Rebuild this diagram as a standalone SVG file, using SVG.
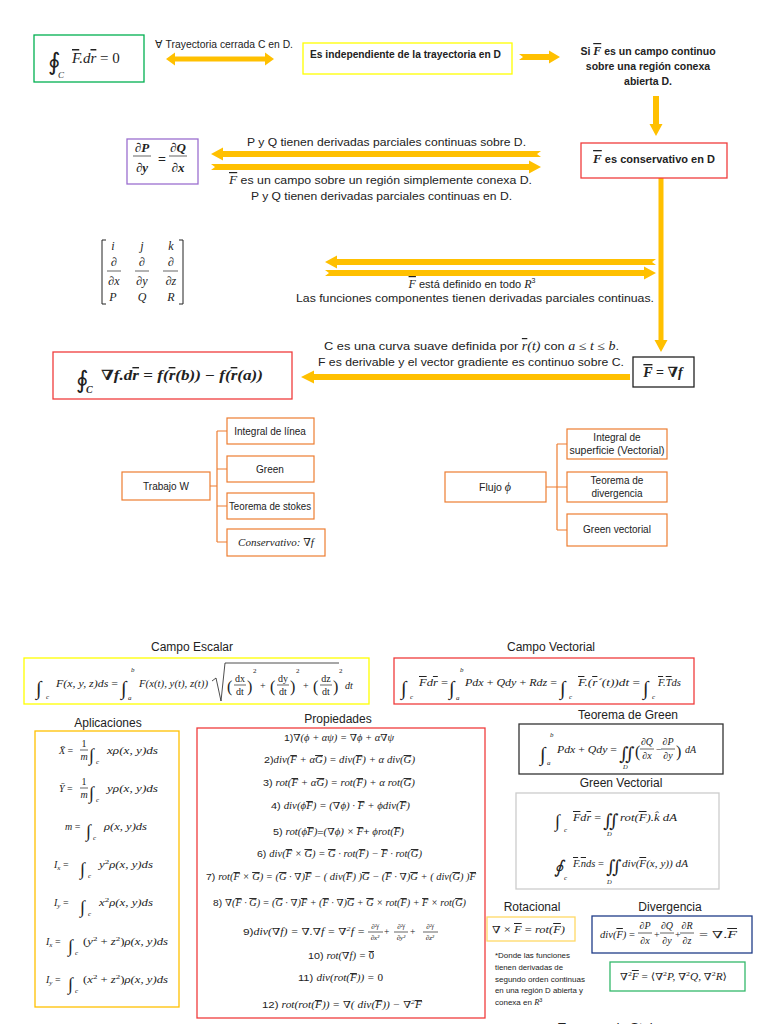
<svg xmlns="http://www.w3.org/2000/svg" width="768" height="1024" viewBox="0 0 768 1024">
<style>
.t{font-family:"Liberation Sans",Arial,sans-serif;fill:#222}
.b{font-weight:bold}
.m{font-family:"Liberation Serif","DejaVu Serif",serif;font-style:italic;fill:#222}
.s{font-family:"Liberation Sans",Arial,sans-serif;font-style:normal}
.u{font-style:normal}
.v{text-decoration:overline}
.c{text-anchor:middle}
.box{fill:#fff;stroke-width:1.3}
.tb{fill:#fff;stroke:#ED7D31;stroke-width:1.2}
.arr{fill:#FFC000}
.tl{stroke:#ED7D31;stroke-width:1.2;fill:none}
.title{font-family:"Liberation Sans",Arial,sans-serif;fill:#222;text-anchor:middle}
.ig{font-family:"Liberation Serif","DejaVu Serif",serif;fill:#222}
.fb{stroke:#222;stroke-width:0.7}
</style>
<rect width="768" height="1024" fill="#fff"/>

<g id="connectors">
<polygon class="arr" points="166,59 175,52.5 175,56.5 265,56.5 265,52.5 274,59 265,65.5 265,61.5 175,61.5 175,65.5"/>
<polygon class="arr" points="519,54 549,54 549,50.5 560,57 549,63.5 549,60 519,60 523,57"/>
<polygon class="arr" points="653,96 659,96 659,124 662.5,124 656,136 649.5,124 653,124"/>
<polygon class="arr" points="658.5,178 663.5,178 663.5,340 667.5,340 661,352 654.5,340 658.5,340"/>
<polygon class="arr" points="211,154 223,147.5 223,151 541,151 537,154 541,157 223,157 223,160.5"/>
<polygon class="arr" points="211,164 529,164 529,160.5 541,167 529,173.5 529,170 211,170 215,167"/>
<polygon class="arr" points="325,262 337,255.5 337,259 656,259 652,262 656,265 337,265 337,268.5"/>
<polygon class="arr" points="325,270 644,270 644,266.5 656,273 644,279.5 644,276 325,276 329,273"/>
<polygon class="arr" points="301,377 314,370.5 314,374 630,374 630,380 314,380 314,383.5"/>
<path class="tl" d="M210,486 H217 M217,431 V542 M217,431 H227 M217,469 H227 M217,506 H227 M217,542 H227"/>
<path class="tl" d="M546,487 H557 M557,444 V530 M557,444 H567 M557,487 H567 M557,530 H567"/>
</g>

<g id="labels">
<text class="t" x="155" y="48" font-size="10.5" textLength="138" lengthAdjust="spacingAndGlyphs">∀ Trayectoria cerrada C en D.</text>
<text class="t b c" x="648" y="55" font-size="10.5">Si <tspan class="m v" font-size="12">F</tspan> es un campo continuo<tspan x="648" y="70">sobre una región conexa</tspan><tspan x="648" y="85">abierta D.</tspan></text>
<text class="t" x="247" y="146" font-size="11" textLength="279" lengthAdjust="spacingAndGlyphs">P y Q tienen derivadas parciales continuas sobre D.</text>
<text class="t" x="229" y="184" font-size="11" textLength="303" lengthAdjust="spacingAndGlyphs"><tspan class="m v" font-size="12">F</tspan> es un campo sobre un región simplemente conexa D.</text>
<text class="t" x="251" y="200" font-size="11" textLength="261" lengthAdjust="spacingAndGlyphs">P y Q tienen derivadas parciales continuas en D.</text>
<text class="t c" x="472" y="288" font-size="11"><tspan class="m v" font-size="12">F</tspan> está definido en todo <tspan class="m" font-size="12">R</tspan><tspan font-size="7" dy="-5">3</tspan></text>
<text class="t" x="296" y="302" font-size="11" textLength="358" lengthAdjust="spacingAndGlyphs">Las funciones componentes tienen derivadas parciales continuas.</text>
<text class="t" x="324" y="350" font-size="11" textLength="295" lengthAdjust="spacingAndGlyphs">C es una curva suave definida por <tspan class="m" font-size="12"><tspan class="v">r</tspan>(t)</tspan> con <tspan class="m" font-size="12">a ≤ t ≤ b</tspan>.</text>
<text class="t" x="318" y="366" font-size="11" textLength="306" lengthAdjust="spacingAndGlyphs">F es derivable y el vector gradiente es continuo sobre C.</text>
</g>

<g id="n-closed">
<rect class="box" x="34" y="35" width="110" height="47" stroke="#00B050"/>
<text class="ig" x="48" y="70" font-size="24">∮</text>
<text class="m" x="58" y="78" font-size="9">C</text>
<text class="m" x="72" y="63" font-size="15"><tspan class="v">F</tspan>.d<tspan class="v">r</tspan><tspan class="u"> = 0</tspan></text>
</g>

<g id="n-indep">
<rect class="box" x="303" y="43" width="209" height="31" stroke="#FFFF00" stroke-width="1.6"/>
<text class="t b" x="310" y="58" font-size="10" textLength="191" lengthAdjust="spacingAndGlyphs">Es independiente de la trayectoria en D</text>
</g>

<g id="n-conserv">
<rect class="box" x="581" y="143" width="146" height="35" stroke="#F03C3C"/>
<text class="t b c" x="654" y="163" font-size="11"><tspan class="m v" font-size="13">F</tspan> es conservativo en D</text>
</g>

<g id="n-partial">
<rect class="box" x="127" y="139" width="71" height="45" stroke="#9B6FCF" stroke-width="1.5"/>
<text class="m b c" x="142" y="152" font-size="13">∂P</text>
<line class="fb" x1="133" y1="156" x2="151" y2="156" stroke-width="1"/>
<text class="m b c" x="142" y="172" font-size="13">∂y</text>
<text class="ig b c" x="162" y="164" font-size="14">=</text>
<text class="m b c" x="178" y="152" font-size="13">∂Q</text>
<line class="fb" x1="169" y1="156" x2="187" y2="156" stroke-width="1"/>
<text class="m b c" x="178" y="172" font-size="13">∂x</text>
</g>

<g id="n-matrix">
<path d="M106,240 H102 V304 H106 M179,240 H183 V304 H179" fill="none" stroke="#222" stroke-width="1"/>
<g class="m c" font-size="12">
<text x="113" y="250">i</text><text x="142" y="250">j</text><text x="171" y="250">k</text>
<text x="114" y="266">∂</text><text x="142" y="266">∂</text><text x="171" y="266">∂</text>
<text x="114" y="285">∂x</text><text x="142" y="285">∂y</text><text x="171" y="285">∂z</text>
<text x="113" y="301">P</text><text x="142" y="301">Q</text><text x="171" y="301">R</text>
</g>
<path class="fb" d="M107,271 H121 M135,271 H149 M163,271 H178"/>
</g>

<g id="n-fundamental">
<rect class="box" x="53" y="352" width="239" height="47" stroke="#F03C3C"/>
<text class="ig" x="76" y="388" font-size="24">∮</text>
<text class="m b" x="86" y="393" font-size="10">C</text>
<text class="m b" x="101" y="380" font-size="14" textLength="162" lengthAdjust="spacingAndGlyphs">∇f.d<tspan class="v">r</tspan> <tspan class="u">=</tspan> f(<tspan class="v">r</tspan>(b)) <tspan class="u">−</tspan> f(<tspan class="v">r</tspan>(a))</text>
</g>

<g id="n-grad">
<rect class="box" x="633" y="357" width="61" height="30" stroke="#222" stroke-width="1.5"/>
<text class="m b c" x="663" y="377" font-size="14"><tspan class="v">F</tspan> <tspan class="u">=</tspan> ∇f</text>
</g>

<g id="n-trabajo">
<rect class="tb" x="122" y="472" width="88" height="28"/>
<text class="t c" x="166" y="490" font-size="10">Trabajo W</text>
</g>
<g id="n-integral-linea">
<rect class="tb" x="227" y="418" width="87" height="26"/>
<text class="t c" x="270" y="435" font-size="10">Integral de línea</text>
</g>
<g id="n-green">
<rect class="tb" x="227" y="456" width="87" height="26"/>
<text class="t c" x="270" y="473" font-size="10">Green</text>
</g>
<g id="n-stokes">
<rect class="tb" x="227" y="493" width="87" height="26"/>
<text class="t c" x="270" y="510" font-size="10" textLength="82" lengthAdjust="spacingAndGlyphs">Teorema de stokes</text>
</g>
<g id="n-conservativo">
<rect class="tb" x="227" y="529" width="98" height="27"/>
<text class="m c" x="276" y="546" font-size="11">Conservativo: ∇f</text>
</g>

<g id="n-flujo">
<rect class="tb" x="445" y="472" width="101" height="30"/>
<text class="t c" x="495" y="491" font-size="10.5">Flujo <tspan class="m" font-size="12">ϕ</tspan></text>
</g>
<g id="n-superficie">
<rect class="tb" x="567" y="429" width="100" height="30"/>
<text class="t c" x="617" y="441" font-size="10">Integral de</text>
<text class="t c" x="617" y="454" font-size="10" textLength="95" lengthAdjust="spacingAndGlyphs">superficie (Vectorial)</text>
</g>
<g id="n-divergencia-t">
<rect class="tb" x="567" y="472" width="100" height="30"/>
<text class="t c" x="617" y="484" font-size="10">Teorema de</text>
<text class="t c" x="617" y="497" font-size="10">divergencia</text>
</g>
<g id="n-green-vec">
<rect class="tb" x="567" y="514" width="100" height="32"/>
<text class="t c" x="617" y="533" font-size="10">Green vectorial</text>
</g>

<g id="n-campo-escalar">
<text class="title" x="192" y="651" font-size="12">Campo Escalar</text>
<rect class="box" x="24" y="658" width="345" height="46" stroke="#FFFF00" stroke-width="1.6"/>
<g class="m" font-size="10">
<text class="ig" x="36" y="695" font-size="20">∫</text>
<text x="46" y="699" font-size="7">c</text>
<text x="56" y="687" textLength="62" lengthAdjust="spacingAndGlyphs">F(x, y, z)ds <tspan class="u">=</tspan></text>
<text class="ig" x="121" y="695" font-size="20">∫</text>
<text x="131" y="672" font-size="7">b</text>
<text x="128" y="700" font-size="7">a</text>
<text x="139" y="687" textLength="69" lengthAdjust="spacingAndGlyphs">F(x(t), y(t), z(t))</text>
<text class="u" x="227" y="692" font-size="16">(</text>
<text class="u c" x="240" y="682">dx</text><text class="u c" x="240" y="695">dt</text>
<text class="u" x="247" y="692" font-size="16">)</text>
<text class="u" x="253" y="673" font-size="7">2</text>
<text class="u" x="260" y="689">+</text>
<text class="u" x="270" y="692" font-size="16">(</text>
<text class="u c" x="283" y="682">dy</text><text class="u c" x="283" y="695">dt</text>
<text class="u" x="290" y="692" font-size="16">)</text>
<text class="u" x="296" y="673" font-size="7">2</text>
<text class="u" x="303" y="689">+</text>
<text class="u" x="313" y="692" font-size="16">(</text>
<text class="u c" x="326" y="682">dz</text><text class="u c" x="326" y="695">dt</text>
<text class="u" x="333" y="692" font-size="16">)</text>
<text class="u" x="339" y="673" font-size="7">2</text>
<text x="345" y="689">dt</text>
</g>
<path d="M212,681 L216,678 L221,701 L225,663 H339" fill="none" stroke="#222" stroke-width="0.8"/>
<path class="fb" d="M234,685 H246 M277,685 H289 M320,685 H332"/>
</g>

<g id="n-campo-vectorial">
<text class="title" x="551" y="651" font-size="12">Campo Vectorial</text>
<rect class="box" x="394" y="658" width="300" height="46" stroke="#F03C3C"/>
<g class="m" font-size="10">
<text class="ig" x="401" y="695" font-size="20">∫</text>
<text x="410" y="699" font-size="7">c</text>
<text x="419" y="686" textLength="29" lengthAdjust="spacingAndGlyphs"><tspan class="v">F</tspan>d<tspan class="v">r</tspan> <tspan class="u">=</tspan></text>
<text class="ig" x="449" y="695" font-size="20">∫</text>
<text x="460" y="672" font-size="7">b</text>
<text x="456" y="700" font-size="7">a</text>
<text x="465" y="686" textLength="92" lengthAdjust="spacingAndGlyphs">Pdx <tspan class="u">+</tspan> Qdy <tspan class="u">+</tspan> Rdz <tspan class="u">=</tspan></text>
<text class="ig" x="560" y="695" font-size="20">∫</text>
<text x="569" y="699" font-size="7">c</text>
<text x="578" y="686" textLength="62" lengthAdjust="spacingAndGlyphs"><tspan class="v">F</tspan>.(<tspan class="v">r</tspan>´(t))dt <tspan class="u">=</tspan></text>
<text class="ig" x="643" y="695" font-size="20">∫</text>
<text x="652" y="699" font-size="7">c</text>
<text x="658" y="686" textLength="23" lengthAdjust="spacingAndGlyphs"><tspan class="v">F</tspan>.<tspan class="v">T</tspan>ds</text>
</g>
</g>

<g id="n-aplicaciones">
<text class="title" x="108" y="727" font-size="12">Aplicaciones</text>
<rect class="box" x="35" y="731" width="144" height="276" stroke="#FFC000"/>
<g class="m" font-size="10">
<text x="59" y="754">X&#x0304; <tspan class="u">=</tspan></text>
<text class="u c" x="84" y="747">1</text><text class="c" x="84" y="760">m</text>
<text class="ig" x="89" y="761" font-size="18">∫</text><text x="96" y="764" font-size="7">c</text>
<text x="107" y="754" textLength="51" lengthAdjust="spacingAndGlyphs">xρ(x, y)ds</text>

<text x="59" y="792">Y&#x0304; <tspan class="u">=</tspan></text>
<text class="u c" x="84" y="785">1</text><text class="c" x="84" y="798">m</text>
<text class="ig" x="89" y="799" font-size="18">∫</text><text x="96" y="802" font-size="7">c</text>
<text x="107" y="792" textLength="51" lengthAdjust="spacingAndGlyphs">yρ(x, y)ds</text>

<text x="65" y="830">m <tspan class="u">=</tspan></text>
<text class="ig" x="86" y="837" font-size="18">∫</text><text x="93" y="840" font-size="7">c</text>
<text x="104" y="830" textLength="43" lengthAdjust="spacingAndGlyphs">ρ(x, y)ds</text>

<text x="54" y="868">I<tspan font-size="7" dy="2">x</tspan><tspan class="u" dy="-2"> =</tspan></text>
<text class="ig" x="80" y="875" font-size="18">∫</text><text x="88" y="878" font-size="7">c</text>
<text x="99" y="868" textLength="54" lengthAdjust="spacingAndGlyphs">y<tspan class="u" font-size="7" dy="-4">2</tspan><tspan dy="4">ρ(x, y)ds</tspan></text>

<text x="54" y="906">I<tspan font-size="7" dy="2">y</tspan><tspan class="u" dy="-2"> =</tspan></text>
<text class="ig" x="80" y="913" font-size="18">∫</text><text x="88" y="916" font-size="7">c</text>
<text x="99" y="906" textLength="54" lengthAdjust="spacingAndGlyphs">x<tspan class="u" font-size="7" dy="-4">2</tspan><tspan dy="4">ρ(x, y)ds</tspan></text>

<text x="46" y="945">I<tspan font-size="7" dy="2">x</tspan><tspan class="u" dy="-2"> =</tspan></text>
<text class="ig" x="68" y="952" font-size="18">∫</text><text x="75" y="955" font-size="7">c</text>
<text x="83" y="945" textLength="85" lengthAdjust="spacingAndGlyphs"><tspan class="u">(</tspan>y<tspan class="u" font-size="7" dy="-4">2</tspan><tspan class="u" dy="4"> + </tspan>z<tspan class="u" font-size="7" dy="-4">2</tspan><tspan class="u" dy="4">)</tspan>ρ(x, y)ds</text>

<text x="46" y="983">I<tspan font-size="7" dy="2">y</tspan><tspan class="u" dy="-2"> =</tspan></text>
<text class="ig" x="68" y="990" font-size="18">∫</text><text x="75" y="993" font-size="7">c</text>
<text x="83" y="983" textLength="85" lengthAdjust="spacingAndGlyphs"><tspan class="u">(</tspan>x<tspan class="u" font-size="7" dy="-4">2</tspan><tspan class="u" dy="4"> + </tspan>z<tspan class="u" font-size="7" dy="-4">2</tspan><tspan class="u" dy="4">)</tspan>ρ(x, y)ds</text>
</g>
<path class="fb" d="M80,750 H88 M80,788 H88"/>
</g>

<g id="n-propiedades">
<text class="title" x="338" y="723" font-size="12">Propiedades</text>
<rect class="box" x="197" y="728" width="288" height="290" stroke="#F03C3C"/>
<g class="m" font-size="9.5">
<text x="284" y="741" textLength="110" lengthAdjust="spacingAndGlyphs"><tspan class="s">1)</tspan>∇(ϕ + αψ) = ∇ϕ + α∇ψ</text>
<text x="264" y="763" textLength="151" lengthAdjust="spacingAndGlyphs"><tspan class="s">2)</tspan>div(<tspan class="v">F</tspan> + α<tspan class="v">G</tspan>) = div(<tspan class="v">F</tspan>) + α div(<tspan class="v">G</tspan>)</text>
<text x="263" y="786" textLength="152" lengthAdjust="spacingAndGlyphs"><tspan class="s">3) </tspan>rot(<tspan class="v">F</tspan> + α<tspan class="v">G</tspan>) = rot(<tspan class="v">F</tspan>) + α rot(<tspan class="v">G</tspan>)</text>
<text x="271" y="809" textLength="139" lengthAdjust="spacingAndGlyphs"><tspan class="s">4) </tspan>div(ϕ<tspan class="v">F</tspan>) = (∇ϕ) · <tspan class="v">F</tspan> + ϕdiv(<tspan class="v">F</tspan>)</text>
<text x="273" y="835" textLength="131" lengthAdjust="spacingAndGlyphs"><tspan class="s">5) </tspan>rot(ϕ<tspan class="v">F</tspan>)<tspan class="s">=</tspan>(∇ϕ) × <tspan class="v">F</tspan><tspan class="s">+</tspan> ϕrot(<tspan class="v">F</tspan>)</text>
<text x="257" y="857" textLength="165" lengthAdjust="spacingAndGlyphs"><tspan class="s">6) </tspan>div(<tspan class="v">F</tspan> × <tspan class="v">G</tspan>) = <tspan class="v">G</tspan> · rot(<tspan class="v">F</tspan>) − <tspan class="v">F</tspan> · rot(<tspan class="v">G</tspan>)</text>
<text x="206" y="880" textLength="270" lengthAdjust="spacingAndGlyphs"><tspan class="s">7) </tspan>rot(<tspan class="v">F</tspan> × <tspan class="v">G</tspan>) = (<tspan class="v">G</tspan> · ∇)<tspan class="v">F</tspan> − ( div(<tspan class="v">F</tspan>) )<tspan class="v">G</tspan> − (<tspan class="v">F</tspan> · ∇)<tspan class="v">G</tspan> + ( div(<tspan class="v">G</tspan>) )<tspan class="v">F</tspan></text>
<text x="213" y="906" textLength="253" lengthAdjust="spacingAndGlyphs"><tspan class="s">8) </tspan>∇(<tspan class="v">F</tspan> · <tspan class="v">G</tspan>) = (<tspan class="v">G</tspan> · ∇)<tspan class="v">F</tspan> + (<tspan class="v">F</tspan> · ∇)<tspan class="v">G</tspan> + <tspan class="v">G</tspan> × rot(<tspan class="v">F</tspan>) + <tspan class="v">F</tspan> × rot(<tspan class="v">G</tspan>)</text>
<text x="243" y="935" textLength="122" lengthAdjust="spacingAndGlyphs"><tspan class="s">9)</tspan>div(∇f) = ∇.∇f = ∇<tspan font-size="6.5" dy="-4">2</tspan><tspan dy="4">f =</tspan></text>
<g font-size="7" class="c">
<text x="375" y="929">∂²f</text><text x="375" y="940">∂x²</text>
<text x="401" y="929">∂²f</text><text x="401" y="940">∂y²</text>
<text x="430" y="929">∂²f</text><text x="430" y="940">∂z²</text>
</g>
<text class="u" x="384" y="935">+</text>
<text class="u" x="410" y="935">+</text>
<text x="308" y="959" textLength="66" lengthAdjust="spacingAndGlyphs"><tspan class="s">10) </tspan>rot(∇f) = <tspan class="v u">0</tspan></text>
<text x="298" y="981" textLength="85" lengthAdjust="spacingAndGlyphs"><tspan class="s">11) </tspan>div(rot(<tspan class="v">F</tspan>)) = <tspan class="u">0</tspan></text>
<text x="262" y="1008" textLength="160" lengthAdjust="spacingAndGlyphs"><tspan class="s">12) </tspan>rot(rot(<tspan class="v">F</tspan>)) = ∇( div(<tspan class="v">F</tspan>)) − ∇<tspan font-size="6.5" dy="-4">2</tspan><tspan class="v" dy="4">F</tspan></text>
</g>
<path class="fb" d="M368,932 H383 M394,932 H408 M423,932 H438"/>
</g>

<g id="n-green-theorem">
<text class="title" x="628" y="719" font-size="12">Teorema de Green</text>
<rect class="box" x="519" y="724" width="204" height="50" stroke="#333" stroke-width="1.5"/>
<g class="m" font-size="10">
<text class="ig" x="540" y="761" font-size="20">∫</text>
<text x="550" y="737" font-size="7">b</text>
<text x="547" y="765" font-size="7">a</text>
<text x="557" y="753" textLength="60" lengthAdjust="spacingAndGlyphs">Pdx <tspan class="u">+</tspan> Qdy <tspan class="u">=</tspan></text>
<text class="ig" x="619" y="760" font-size="18">∬</text>
<text x="623" y="769" font-size="6.5">D</text>
<text class="u" x="635" y="757" font-size="16">(</text>
<text class="c" x="647" y="745">∂Q</text><text class="c" x="647" y="759">∂x</text>
<text class="u" x="656" y="753">−</text>
<text class="c" x="668" y="745">∂P</text><text class="c" x="668" y="759">∂y</text>
<text class="u" x="676" y="757" font-size="16">)</text>
<text x="685" y="753">dA</text>
</g>
<path class="fb" d="M640,749 H654 M661,749 H675"/>
</g>

<g id="n-green-vectorial">
<text class="title" x="621" y="787" font-size="12">Green Vectorial</text>
<rect class="box" x="516" y="793" width="203" height="96" stroke="#CCCCCC"/>
<g class="m" font-size="10">
<text class="ig" x="555" y="827" font-size="18">∫</text>
<text x="564" y="832" font-size="7">c</text>
<text x="573" y="821" textLength="28" lengthAdjust="spacingAndGlyphs"><tspan class="v">F</tspan>d<tspan class="v">r</tspan> <tspan class="u">=</tspan></text>
<text class="ig" x="603" y="827" font-size="18">∬</text>
<text x="607" y="836" font-size="6.5">D</text>
<text x="620" y="821" textLength="57" lengthAdjust="spacingAndGlyphs">rot(<tspan class="v">F</tspan>).k&#x0302; dA</text>
<text class="ig" x="554" y="873" font-size="18">∮</text>
<text x="564" y="880" font-size="7">c</text>
<text x="573" y="867" textLength="31" lengthAdjust="spacingAndGlyphs"><tspan class="v">F</tspan>.<tspan class="v">n</tspan>ds <tspan class="u">=</tspan></text>
<text class="ig" x="606" y="873" font-size="18">∬</text>
<text x="607" y="884" font-size="6.5">D</text>
<text x="622" y="867" textLength="66" lengthAdjust="spacingAndGlyphs">div(<tspan class="v">F</tspan>(x, y)) dA</text>
</g>
</g>

<g id="n-rotacional">
<text class="title" x="532" y="911" font-size="12">Rotacional</text>
<rect class="box" x="487" y="917" width="88" height="24" stroke="#FFD966"/>
<text class="m" x="492" y="933" font-size="10" textLength="73" lengthAdjust="spacingAndGlyphs"><tspan class="u">∇ × </tspan><tspan class="v">F</tspan> <tspan class="u">=</tspan> rot(<tspan class="v">F</tspan>)</text>
<g class="t" font-size="8">
<text x="495" y="958" textLength="75" lengthAdjust="spacingAndGlyphs">*Donde las funciones</text>
<text x="495" y="970" textLength="68" lengthAdjust="spacingAndGlyphs">tienen derivadas de</text>
<text x="495" y="982" textLength="90" lengthAdjust="spacingAndGlyphs">segundo orden continuas</text>
<text x="495" y="993" textLength="88" lengthAdjust="spacingAndGlyphs">en una región D abierta y</text>
<text x="495" y="1005">conexa en <tspan class="m" font-size="8.5">R</tspan><tspan font-size="5.5" dy="-3">3</tspan></text>
</g>
</g>

<g id="n-divergencia">
<text class="title" x="670" y="911" font-size="12">Divergencia</text>
<rect class="box" x="592" y="916" width="160" height="37" stroke="#1F3C88" stroke-width="1.5"/>
<g class="m" font-size="10">
<text x="600" y="938" textLength="35" lengthAdjust="spacingAndGlyphs">div(<tspan class="v">F</tspan>) <tspan class="u">=</tspan></text>
<text class="c" x="645" y="929">∂P</text><text class="c" x="645" y="944">∂x</text>
<text class="u" x="654" y="938">+</text>
<text class="c" x="667" y="929">∂Q</text><text class="c" x="667" y="944">∂y</text>
<text class="u" x="675" y="938">+</text>
<text class="c" x="687" y="929">∂R</text><text class="c" x="687" y="944">∂z</text>
<text x="699" y="938" textLength="38" lengthAdjust="spacingAndGlyphs"><tspan class="u">= ∇.</tspan><tspan class="v">F</tspan></text>
</g>
<path class="fb" d="M638,933 H652 M660,933 H674 M680,933 H694"/>
</g>

<g id="n-laplaciano">
<rect class="box" x="610" y="962" width="135" height="29" stroke="#33B86A" stroke-width="1.5"/>
<text class="m" x="620" y="980" font-size="10" textLength="107" lengthAdjust="spacingAndGlyphs"><tspan class="u">∇</tspan><tspan class="u" font-size="7" dy="-4">2</tspan><tspan class="v" dy="4">F</tspan><tspan> </tspan><tspan class="u">= ⟨∇</tspan><tspan class="u" font-size="7" dy="-4">2</tspan><tspan dy="4">P, </tspan><tspan class="u">∇</tspan><tspan class="u" font-size="7" dy="-4">2</tspan><tspan dy="4">Q, </tspan><tspan class="u">∇</tspan><tspan class="u" font-size="7" dy="-4">2</tspan><tspan dy="4">R</tspan><tspan class="u">⟩</tspan></text>
</g>

<g id="n-stokes-title">
<text class="title" x="614" y="1032" font-size="13">Teorema de Stokes</text>
</g>
</svg>
